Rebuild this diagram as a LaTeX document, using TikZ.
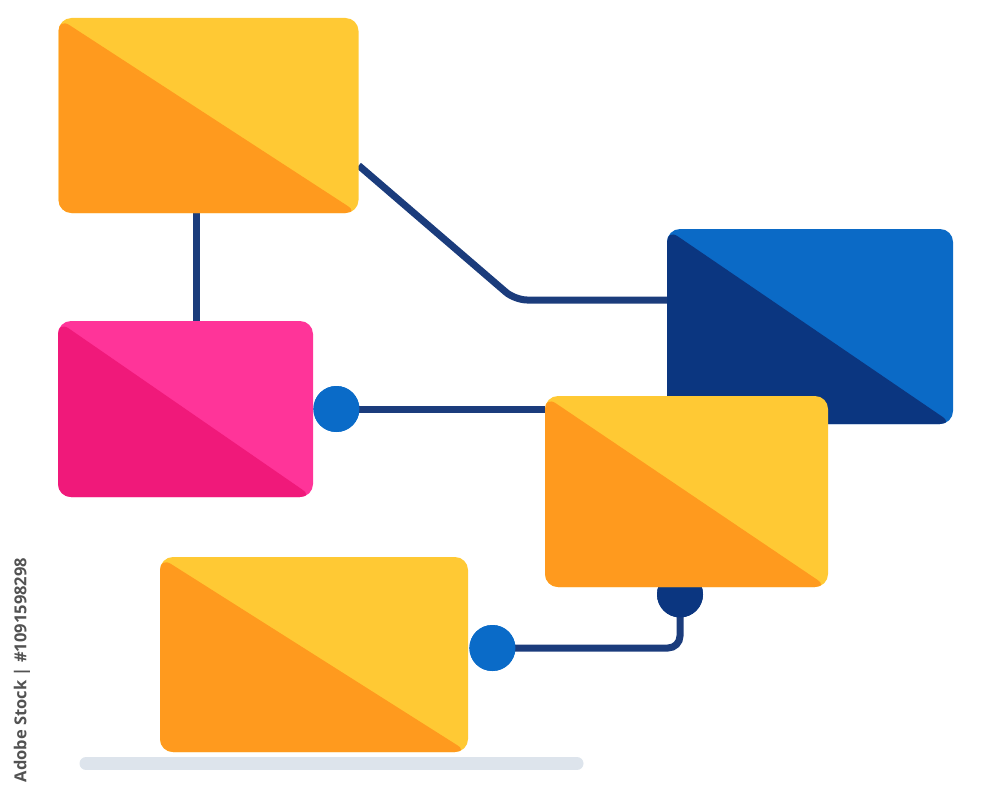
\documentclass[tikz,border=0pt]{standalone}
\usepackage{fontspec}
\setmainfont{Open Sans}
\usetikzlibrary{positioning,backgrounds}
\definecolor{orangedark}{HTML}{FF9A1E}
\definecolor{orangelight}{HTML}{FFC934}
\definecolor{pinkdark}{HTML}{F0197A}
\definecolor{pinklight}{HTML}{FF3499}
\definecolor{bluedark}{HTML}{0B3680}
\definecolor{bluelight}{HTML}{0B6AC6}
\definecolor{navy}{HTML}{1B3C7C}
\definecolor{dotblue}{HTML}{0A6BC8}
\definecolor{shadowgray}{HTML}{DDE4EC}

\begin{document}
\begin{tikzpicture}[x=1pt,y=-1pt]
\tikzset{
block/.style 2 args={rectangle, rounded corners=13pt, fill=#2, inner sep=0pt,
path picture={\fill[#1] (path picture bounding box.north west) -- (path picture bounding box.south east) -- (path picture bounding box.south west) -- cycle;}},
orangebox/.style={block={orangedark}{orangelight}},
pinkbox/.style={block={pinkdark}{pinklight}},
bluebox/.style={block={bluedark}{bluelight}},
mydot/.style={circle, fill=dotblue, minimum size=46pt, inner sep=0pt},
link/.style={draw=navy, line width=7pt, rounded corners=12pt},
}
\useasboundingbox (0,0) rectangle (1000,800);

\node [orangebox, minimum width=300pt, minimum height=195pt] (top) at (208.5,115.5) {};
\node [pinkbox, minimum width=255pt, minimum height=176pt] (pink) at (185.5,409) {};
\node [bluebox, minimum width=286pt, minimum height=195pt] (blue) at (810,326.5) {};
\node [orangebox, minimum width=283pt, minimum height=191pt] (mid) at (686.5,491.5) {};
\node [orangebox, minimum width=308pt, minimum height=195pt] (bottom) at (314,654.5) {};
\node [rotate=90, text=black!68, font=\fontsize{16.5}{16.5}\selectfont\bfseries] (stockid) at (22,670) {Adobe Stock | \#1091598298};

\begin{pgfonlayer}{background}
\coordinate (bend) at (515,300);
\node [mydot, right=0pt of pink, yshift=0pt] (pinkdot) {};
\node [mydot, fill=bluedark, below=-16pt of mid, xshift=-6.5pt] (middot) {};
\node [mydot, right=1pt of bottom, yshift=6.5pt] (bottomdot) {};
\draw[link] ([xshift=-12.5pt]top.south) -- ([xshift=-12.5pt]top.south |- pink.north);
\draw[link] ([yshift=-50pt]top.east) -- (bend) -- (bend -| blue.west);
\draw[link] (pinkdot.center) -- (pinkdot.center -| mid.west);
\draw[link] (middot.center) -- (middot.center |- bottomdot.center) -- (bottomdot.center);
\node [mydot, right=0pt of pink, yshift=0pt] {};
\node [mydot, fill=bluedark, below=-16pt of mid, xshift=-6.5pt] {};
\node [mydot, right=1pt of bottom, yshift=6.5pt] {};
\draw[shadowgray, line width=13pt, line cap=round] (86,763.5) -- (577,763.5);
\end{pgfonlayer}
\end{tikzpicture}
\end{document}
